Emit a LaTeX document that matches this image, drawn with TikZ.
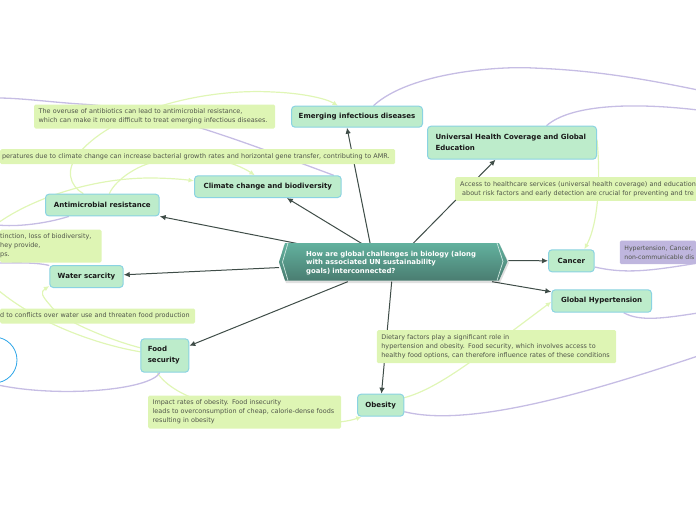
\documentclass[tikz,border=0pt]{standalone}
\usepackage{fontspec}
\setmainfont{DejaVu Sans}
\usetikzlibrary{arrows.meta,calc}
\definecolor{nodefill}{HTML}{BDECCB}
\definecolor{nodeedge}{HTML}{8AD3E2}
\definecolor{notefill}{HTML}{DEF5B4}
\definecolor{notetext}{HTML}{50554A}
\definecolor{purpfill}{HTML}{BFB6DE}
\definecolor{purpline}{HTML}{C6BDE4}
\definecolor{greenline}{HTML}{E0F6B6}
\definecolor{darkline}{HTML}{3F4D48}
\definecolor{ctop}{HTML}{62B19E}
\definecolor{cbot}{HTML}{4A7D71}
\definecolor{cline}{HTML}{D0E8E1}
\definecolor{circ}{HTML}{2EA6E8}
\pgfdeclarelayer{bg}
\pgfsetlayers{bg,main}
\tikzset{
  topic/.style={draw=nodeedge,fill=nodefill,line width=1pt,rounded corners=3.5pt,anchor=north west,inner sep=0pt,
    font=\bfseries\fontsize{7.05}{11}\selectfont,text=black!90,align=left},
  note/.style={fill=notefill,rounded corners=1.5pt,anchor=north west,inner sep=0pt,inner xsep=4.5pt,
    font=\fontsize{6.45}{9}\selectfont,text=notetext,align=left},
  link/.style={draw=darkline,line width=1pt,-{Latex[length=6pt,width=5.5pt]}},
  gline/.style={draw=greenline,line width=1.2pt},
  garrow/.style={gline,-{Latex[length=5.5pt,width=5pt]}},
  pline/.style={draw=purpline,line width=1.3pt},
}
\begin{document}
\begin{tikzpicture}[x=1pt,y=-1pt]
\useasboundingbox (0,0) rectangle (696,520);
\clip (0,0) rectangle (696,520);
% central chevron
\fill[black,opacity=0.12] (284,245) -- (279,263) -- (286,283) -- (500,283) -- (509,263) -- (500,245) -- cycle;
\shade[top color=ctop,bottom color=cbot] (285,243) -- (279,262) -- (285,280.5) -- (499,280.5) -- (507.5,261.5) -- (499,243) -- cycle;
\draw[cline,line width=0.7pt] (288,243) -- (282.5,262) -- (288,280.5);
\draw[cline,line width=0.7pt] (497,243) -- (503,261.5) -- (497,280.5);
\node[minimum width=229pt,minimum height=37.5pt,inner sep=0pt,inner xsep=27pt,text width=175pt,anchor=north west,
  font=\bfseries\fontsize{6.9}{8.6}\selectfont,text=white,align=left] (c) at (279,243.8)
  {How are global challenges in biology (along\\with associated UN sustainability\\goals) interconnected?};
% topics
\node[topic,minimum width=131pt,minimum height=21pt,align=center] (emerg) at (291,105.7) {Emerging infectious diseases};
\node[topic,minimum width=169pt,minimum height=33pt,text width=153pt] (uhc) at (427,125.7) {Universal Health Coverage and Global\\Education};
\node[topic,minimum width=146.7pt,minimum height=21.7pt,align=center] (clim) at (194,175.3) {Climate change and biodiversity};
\node[topic,minimum width=113.7pt,minimum height=21.7pt,align=center] (amr) at (45,193.7) {Antimicrobial resistance};
\node[topic,minimum width=73.4pt,minimum height=22pt,align=center] (water) at (49.3,265) {Water scarcity};
\node[topic,minimum width=48pt,minimum height=33.4pt,text width=34pt] (food) at (140.3,338.3) {Food\\security};
\node[topic,minimum width=46.3pt,minimum height=22pt,align=center] (obes) at (357,393.7) {Obesity};
\node[topic,minimum width=45.7pt,minimum height=22pt,align=center] (canc) at (548,249.3) {Cancer};
\node[topic,minimum width=99.7pt,minimum height=22.4pt,align=center] (hyp) at (551.3,289.3) {Global Hypertension};
% notes
\node[note,minimum height=24pt,text width=232pt] (n1) at (34,104.3) {The overuse of antibiotics can lead to antimicrobial resistance,\\which can make it more difficult to treat emerging infectious diseases.};
\node[note,minimum height=15pt,text width=395pt,inner xsep=0pt,align=left] (n2) at (0,149) {\makebox[395pt][r]{peratures due to climate change can increase bacterial growth rates and horizontal gene transfer, contributing to AMR.\hspace*{5.5pt}}};
\node[note,minimum height=33pt,text width=101.3pt,inner xsep=0pt] (n3) at (0,229.3) {tinction, loss of biodiversity,\\hey provide,\\ps.};
\node[note,minimum height=15pt,text width=195pt,inner xsep=0pt,align=left] (n4) at (0,308.3) {\makebox[195pt][r]{d to conflicts over water use and threaten food production\hspace*{5.5pt}}};
\node[note,minimum height=33pt,text width=184pt] (n5) at (148,395.3) {Impact rates of obesity. Food insecurity\\leads to overconsumption of cheap, calorie-dense foods\\resulting in obesity};
\node[note,minimum height=33pt,text width=230.3pt] (n6) at (376.7,330) {Dietary factors play a significant role in\\hypertension and obesity. Food security, which involves access to\\healthy food options, can therefore influence rates of these conditions};
\node[note,minimum height=23.7pt,text width=246pt,inner xsep=0pt] (n7) at (455,177) {\hspace*{5pt}Access to healthcare services (universal health coverage) and education\\\hspace*{7pt}about risk factors and early detection are crucial for preventing and tre};
\node[note,fill=purpfill,minimum height=23.7pt,text width=76.3pt,inner xsep=0pt,font=\fontsize{6.15}{9}\selectfont] (n8) at (619.7,240.3) {\hspace*{4.5pt}Hypertension, Cancer,\\\hspace*{4.5pt}non-communicable dis};
% open-ended curve points
\coordinate (eL1) at (-2,98);
\coordinate (eL2) at (-2,225);
\coordinate (eL3) at (-2,263);
\coordinate (eL4) at (-2,385);
\coordinate (eL5) at (-2,223);
\coordinate (eL6) at (-2,290);
\coordinate (eR1) at (698,90);
\coordinate (eR2) at (698,110);
\coordinate (eR3) at (698,263);
\coordinate (eR4) at (698,313);
\coordinate (eR5) at (698,356);
\begin{pgfonlayer}{bg}
% links from the central topic
\draw[link] ([xshift=-23.5pt]c.north) -- ([xshift=-10pt]emerg.south);
\draw[link] ([xshift=19pt]c.north) -- ([xshift=-16.5pt]uhc.south);
\draw[link] ([xshift=-31.5pt]c.north) -- ([xshift=19pt]clim.south);
\draw[link] ([xshift=-95pt]c.north) -- (amr.south east);
\draw[link] ([yshift=-4.8pt]c.west) -- ([yshift=1.7pt]water.east);
\draw[link] ([xshift=-46pt]c.south) -- ([yshift=-7.5pt]food.north east);
\draw[link] ([xshift=-2pt]c.south) -- ([xshift=0.8pt]obes.north);
\draw[link] ([yshift=2.2pt]c.east) -- (canc.west);
\draw[link] ([xshift=98.5pt]c.south) -- ([yshift=-2.5pt]hyp.north west);
% green relations
\draw[garrow] ([xshift=-19pt]amr.north) .. controls (70,186) and (64,170) .. (80,152) .. controls (115,112) and (200,88) .. (273,92) .. controls (300,93) and (325,98) .. ([xshift=-19pt]emerg.north);
\draw[garrow] ([xshift=7pt]amr.north) .. controls (115,180) and (140,162) .. (165,160) .. controls (200,152) and (235,162) .. ([xshift=-13pt]clim.north);
\draw[garrow] (eL5) .. controls (30,200) and (90,178) .. (150,178) .. controls (165,178) and (180,179) .. ([yshift=-5.5pt]clim.north west);
\draw[garrow] ([yshift=-9.5pt]food.north west) .. controls (110,340) and (60,320) .. (50,305) .. controls (42,296) and (40,292) .. ([yshift=2pt]water.south west);
\draw[gline] ([yshift=-13.5pt]food.north west) .. controls (100,345) and (40,325) .. (eL6);
\draw[garrow] ([xshift=-7.5pt]food.south) .. controls (165,385) and (185,398) .. (215,405) .. controls (270,420) and (330,428) .. ([xshift=-19pt]obes.south);
\draw[garrow] ([yshift=-4pt]obes.north east) .. controls (440,388) and (480,355) .. ([yshift=-12.5pt]hyp.north west);
\draw[garrow] ([yshift=-14pt]uhc.north east) .. controls (600,170) and (600,220) .. ([xshift=13pt]canc.north);
% purple relations
\draw[pline] ([xshift=16.5pt]emerg.north) .. controls (410,72) and (500,66) .. (533,68) .. controls (590,70) and (640,78) .. (eR1);
\draw[pline] ([xshift=34.5pt]uhc.north) .. controls (570,105) and (630,102) .. (eR2);
\draw[pline] ([xshift=-8pt]clim.north east) .. controls (225,135) and (155,108) .. (80,104) .. controls (50,102) and (20,98) .. (eL1);
\draw[pline] ([xshift=-33.5pt]amr.south) .. controls (45,224) and (15,227) .. (eL2);
\draw[pline] ([yshift=-0.5pt]water.north west) .. controls (35,262) and (15,263) .. (eL3);
\draw[pline] ([xshift=-5pt]food.south) .. controls (150,390) and (60,398) .. (eL4);
\draw[pline] ([yshift=5pt]obes.south east) .. controls (470,428) and (590,392) .. (eR5);
\draw[pline] ([yshift=5.3pt]canc.south east) .. controls (625,274) and (650,271) .. (eR3);
\draw[pline] ([xshift=22pt]hyp.south) .. controls (640,322) and (665,318) .. (eR4);
\end{pgfonlayer}
% open blue circle at the left edge
\draw[circ,line width=0.8pt] (-6,360) circle (23);
\end{tikzpicture}
\end{document}
